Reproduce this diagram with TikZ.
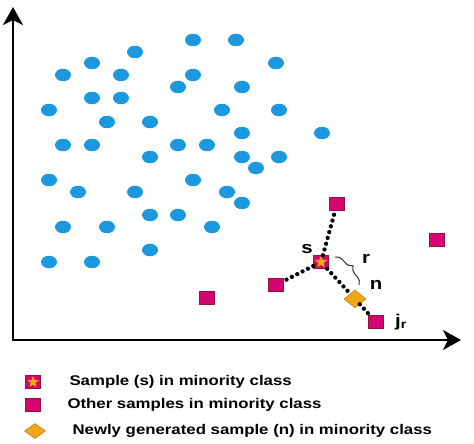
\documentclass[tikz,border=0pt]{standalone}
\usepackage{fontspec}
\setmainfont{Liberation Sans}
\newfontfamily\widefont[FakeStretch=1.2]{Liberation Sans}
\usetikzlibrary{arrows.meta,positioning,shapes.geometric,decorations.pathreplacing}
\definecolor{majBlue}{RGB}{28,152,222}
\definecolor{minPink}{RGB}{212,4,112}
\definecolor{minEdge}{RGB}{150,20,60}
\definecolor{newOrange}{RGB}{240,166,22}

\begin{document}
\begin{tikzpicture}[
  x=1pt,y=-1pt,
  font=\bfseries,
  majdot/.style={ellipse,fill=majBlue,inner sep=0pt,minimum width=16pt,minimum height=12.5pt},
  minbox/.style={rectangle,fill=minPink,draw=minEdge,line width=0.5pt,inner sep=0pt,minimum width=15pt,minimum height=13pt},
  starmark/.style={star,star points=5,star point ratio=2.3,fill=newOrange,inner sep=0pt,minimum size=13pt},
  newpt/.style={diamond,fill=newOrange,draw=newOrange!75!black,line width=0.5pt,inner sep=0pt,minimum width=22pt,minimum height=18pt},
  axis/.style={line width=2.6pt,{Stealth[length=18pt,width=20pt,inset=5pt]}-{Stealth[length=18pt,width=20pt,inset=5pt]}},
  link/.style={line width=4.3pt,dash pattern=on 0pt off 6pt,line cap=round},
  lbl/.style={font=\widefont\bfseries\fontsize{17}{19}\selectfont},
  keytext/.style={anchor=west,font=\widefont\bfseries\fontsize{14}{16}\selectfont}
]
\useasboundingbox (0,0) rectangle (474,444);

% axes
\coordinate (ytop) at (13,7);
\coordinate (orig) at (13,340);
\coordinate (xend) at (461,340);
\draw[axis] (ytop) -- (orig) -- (xend);

% majority class
\foreach \x/\y [count=\i] in {193/40,236/40,135/52,92/63,276/63,63/75,121/75,193/75,178/87,242/87,
  92/98,121/98,49/110,222/110,279/110,107/122,150/122,242/133,322/133,
  63/145,92/145,178/145,207/145,150/157,242/157,279/157,256/168,
  49/180,193/180,78/192,135/192,227/192,242/203,150/215,178/215,
  63/227,107/227,212/227,150/250,49/262,92/262}
  \node[majdot] (c\i) at (\x,\y) {};

% minority class
\node[minbox] (s) at (321,262) {};
\node[starmark] (sstar) at (s) {};
\node[minbox] (top) at (337,204) {};
\node[minbox] (left) at (276,285) {};
\node[minbox] (jr) at (376,322) {};
\node[minbox] (far) at (437,240) {};
\node[minbox] (low) at (207,298) {};
\node[newpt] (n) at (355,299) {};

\draw[link] (s) -- (top);
\draw[link] (s) -- (left);
\draw[link] (s) -- (n);
\draw[link] (n) -- (jr);

\node[lbl] (slbl) at (307,249) {s};
\node[lbl] (rlbl) at (366,259) {r};
\node[lbl] (nlbl) at (376,285) {n};
\node[lbl] (jlbl) at (401,322) {j\textsubscript{r}};

\coordinate (b1) at (335,257);
\coordinate (b2) at (359,285);
\draw[decorate,decoration={brace,amplitude=8pt},line width=1pt,black!80] (b1) -- (b2);

% key
\node[minbox] (k1) at (33,382) {};
\node[starmark,minimum size=12pt] (k1star) at (k1) {};
\node[keytext] (t1) at (66,382) {Sample (s) in minority class};
\node[minbox] (k2) at (33,405) {};
\node[keytext] (t2) at (64,405) {Other samples in minority class};
\node[newpt,minimum width=21pt,minimum height=15pt] (k3) at (35,431) {};
\node[keytext] (t3) at (69,431) {Newly generated sample (n) in minority class};
\end{tikzpicture}
\end{document}
